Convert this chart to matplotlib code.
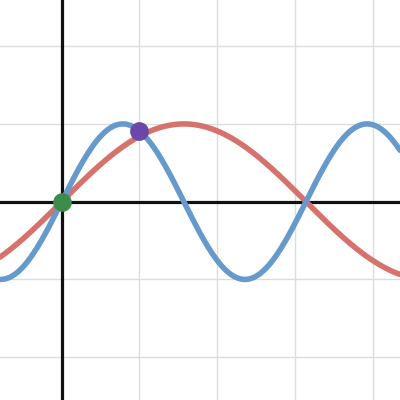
import numpy as np
import matplotlib
matplotlib.use("Agg")
from matplotlib import pyplot as plt

# view window (graph units)
x_range = [-0.794, 4.351]
y_range = [-2.551, 2.594]
grid_ticks_x = [-1, 0, 1, 2, 3, 4, 5]
grid_ticks_y = [-3, -2, -1, 0, 1, 2, 3]

# curves: y = amp * sin(freq * x)
curve_names = ["red", "blue"]
curve_freq = [1.0, 2.0]
curve_amp = [1.0, 1.0]
curve_colors = ["#d6716c", "#6699cc"]

# highlighted points
point_x = [0.0, 1.0]
point_y = [0.0, np.sin(2.0)]
point_colors = ["#3d8c4c", "#6a47a8"]

fig = plt.figure(figsize=(4, 4), dpi=100)
ax = fig.add_axes([0, 0, 1, 1])
ax.set_xlim(x_range)
ax.set_ylim(y_range)

for g in grid_ticks_x:
    ax.axvline(g, color="#dcdcdc", lw=1.0, zorder=0)
for g in grid_ticks_y:
    ax.axhline(g, color="#dcdcdc", lw=1.0, zorder=0)
ax.axvline(0, color="#111111", lw=2.3, zorder=1)
ax.axhline(0, color="#111111", lw=2.3, zorder=1)

xs = np.linspace(x_range[0], x_range[1], 800)
for name, f, a, c in zip(curve_names, curve_freq, curve_amp, curve_colors):
    ax.plot(xs, a * np.sin(f * xs), color=c, lw=4.0, solid_capstyle="round", zorder=2)

for px, py, c in zip(point_x, point_y, point_colors):
    ax.plot(px, py, "o", color=c, ms=13.5, mec="none", zorder=3)

ax.axis("off")
fig.savefig("out.png", dpi=100)
